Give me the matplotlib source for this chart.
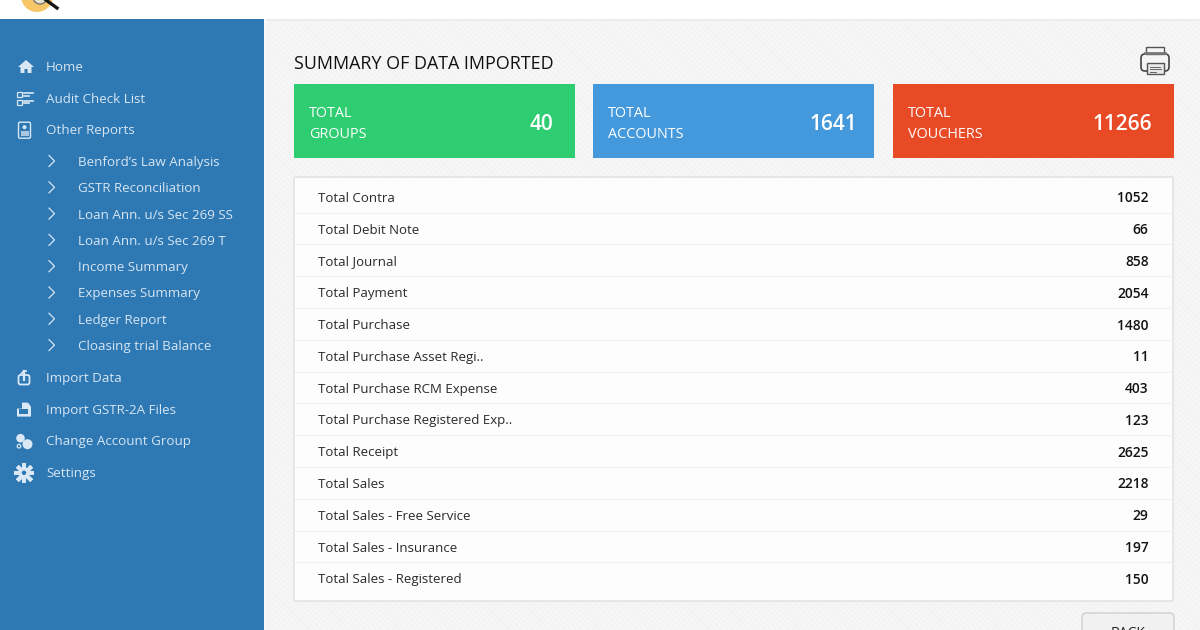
import matplotlib
matplotlib.use("Agg")
import matplotlib.pyplot as plt
from matplotlib.patches import Rectangle, FancyBboxPatch, Circle, Polygon
from matplotlib.lines import Line2D

plt.rcParams['font.family'] = ['Open Sans', 'Noto Sans', 'DejaVu Sans']
plt.rcParams['hatch.linewidth'] = 0.7

title = "SUMMARY OF DATA IMPORTED"
card_titles = [("TOTAL", "GROUPS"), ("TOTAL", "ACCOUNTS"), ("TOTAL", "VOUCHERS")]
card_values = [40, 1641, 11266]
card_colors = ["#2ecd71", "#4499dc", "#e84a25"]
row_labels = ["Total Contra", "Total Debit Note", "Total Journal", "Total Payment", "Total Purchase",
              "Total Purchase Asset Regi..", "Total Purchase RCM Expense", "Total Purchase Registered Exp..",
              "Total Receipt", "Total Sales", "Total Sales - Free Service", "Total Sales - Insurance",
              "Total Sales - Registered"]
row_values = [1052, 66, 858, 2054, 1480, 11, 403, 123, 2625, 2218, 29, 197, 150]
menu_top = ["Home", "Audit Check List", "Other Reports"]
menu_sub = ["Benford\u2019s Law Analysis", "GSTR Reconciliation", "Loan Ann. u/s Sec 269 SS", "Loan Ann. u/s Sec 269 T",
            "Income Summary", "Expenses Summary", "Ledger Report", "Cloasing trial Balance"]
menu_bottom = ["Import Data", "Import GSTR-2A Files", "Change Account Group", "Settings"]

fig = plt.figure(figsize=(12, 6.3), dpi=100)
ax = fig.add_axes([0, 0, 1, 1])
ax.set_xlim(0, 1200)
ax.set_ylim(630, 0)
ax.axis("off")

# page background
ax.add_patch(Rectangle((264, 20), 936, 610, fc="#f3f3f3", ec="#fafafa", hatch="\\\\\\\\\\\\", lw=0, zorder=0))
# header
ax.add_patch(Rectangle((0, 0), 1200, 19, fc="white", ec="none", zorder=1))
ax.add_patch(Rectangle((264, 19), 936, 2, fc="#ececec", ec="none", zorder=1))
ax.add_patch(Circle((37, -4), 16, fc="#f6c667", ec="none", zorder=2, clip_on=True))
ax.add_line(Line2D([46, 57], [0, 8], color="#151515", lw=2.4, zorder=3))
ax.add_patch(Circle((40, -3), 7, fc="#e9e2cf", ec="#777777", lw=1, zorder=2))
# sidebar
ax.add_patch(Rectangle((0, 19), 264, 611, fc="#2e78b3", ec="none", zorder=1))
ax.add_patch(Rectangle((263.5, 19), 2, 611, fc="#f6f8fa", ec="none", zorder=1))

ICON = "#d9e8f4"
MENU = "#d6e6f3"
def menu_text(x, y, s):
    ax.text(x, y + 5, s, color=MENU, fontsize=9.6, va="baseline", ha="left", zorder=4)

def icon(kind, cx, cy):
    if kind == 0:  # home
        ax.add_patch(Polygon([(cx-8, cy), (cx, cy-7), (cx+8, cy), (cx+5.5, cy), (cx+5.5, cy+6), (cx+1.5, cy+6),
                              (cx+1.5, cy+2), (cx-1.5, cy+2), (cx-1.5, cy+6), (cx-5.5, cy+6), (cx-5.5, cy)],
                             fc=ICON, ec="none", zorder=4))
    elif kind == 1:  # check list
        for dy in (-4, 3.5):
            ax.add_patch(Rectangle((cx-8, cy+dy-2.5), 5, 5, fc="none", ec=ICON, lw=0.9, zorder=4))
            ax.add_line(Line2D([cx-1, cx+8], [cy+dy-1.2]*2, color=ICON, lw=1.2, zorder=4))
            ax.add_line(Line2D([cx-1, cx+4], [cy+dy+1.2]*2, color=ICON, lw=1.2, zorder=4))
    elif kind == 2:  # report
        ax.add_patch(FancyBboxPatch((cx-6.5, cy-8), 12, 16, boxstyle="round,pad=0,rounding_size=1.5",
                                    fc="none", ec=ICON, lw=1, zorder=4))
        ax.add_patch(Circle((cx-0.5, cy-3), 2, fc=ICON, ec="none", zorder=4))
        ax.add_patch(Rectangle((cx-4.5, cy+1), 8, 5, fc="#a9c8e0", ec="none", zorder=4))
    elif kind == 3:  # import
        ax.add_patch(FancyBboxPatch((cx-5.5, cy-3), 11, 9.5, boxstyle="round,pad=0,rounding_size=2",
                                    fc="none", ec=ICON, lw=1.3, zorder=4))
        ax.add_line(Line2D([cx, cx], [cy-7, cy+2], color=ICON, lw=1.6, zorder=4))
        ax.add_line(Line2D([cx-2.5, cx, cx+2], [cy-4.5, cy-7, cy-7], color=ICON, lw=1.3, zorder=4))
    elif kind == 4:  # import files
        ax.add_patch(Polygon([(cx-7, cy-1), (cx-2, cy-1), (cx-2, cy-7), (cx+4, cy-7), (cx+7, cy-3), (cx+7, cy+7), (cx-7, cy+7)],
                             fc=ICON, ec="none", zorder=4))
        ax.add_patch(Rectangle((cx-5, cy-0.5), 9, 4.5, fc="#2e78b3", ec="none", zorder=4))
    elif kind == 5:  # change group
        ax.add_patch(Circle((cx-3.5, cy-3), 4.3, fc=ICON, ec="none", zorder=4))
        ax.add_patch(Circle((cx+3.5, cy+3), 5, fc=ICON, ec="none", zorder=4))
        ax.add_patch(Circle((cx-5, cy+5), 1.8, fc="none", ec=ICON, lw=0.9, zorder=4))
    elif kind == 6:  # settings
        ax.plot([cx], [cy], marker=(4, 2, 0), ms=14.5, mew=2.8, mec=ICON, zorder=4)
        ax.plot([cx], [cy], marker=(4, 2, 45), ms=14.5, mew=2.8, mec=ICON, zorder=4)
        ax.add_patch(Circle((cx, cy), 5.6, fc=ICON, ec="none", zorder=4))
        ax.add_patch(Circle((cx, cy), 2.2, fc="#2e78b3", ec="none", zorder=5))

for i, s in enumerate(menu_top):
    y = 66 + i * 31.6
    menu_text(46, y, s)
    icon(i, 25 if i else 26, y + 1)
for i, s in enumerate(menu_sub):
    y = 161 + i * 26.3
    ax.plot([49, 54.5, 49], [y - 5.5, y, y + 5.5], color=MENU, lw=0.9, zorder=4)
    menu_text(78, y, s)
for i, s in enumerate(menu_bottom):
    y = 377 + i * 31.6
    menu_text(46, y, s)
    icon(i + 3, 24, y + 1)

# title and printer
ax.text(293.5, 69, title, color="#111111", fontsize=12.9, va="baseline", ha="left", zorder=4)
ax.add_patch(FancyBboxPatch((1141, 54), 28, 17, boxstyle="round,pad=0,rounding_size=4", fc="none", ec="#444444", lw=1.2, zorder=4))
ax.add_patch(Rectangle((1146, 47), 18, 7, fc="none", ec="#555555", lw=1, zorder=4))
ax.add_line(Line2D([1145, 1165], [53, 53], color="#777777", lw=2, zorder=4))
ax.add_patch(Rectangle((1147, 63), 17, 11, fc="#e8e8e8", ec="#555555", lw=1, zorder=5))
for yy, xe in ((66.5, 1160), (69, 1161), (71.5, 1156)):
    ax.add_line(Line2D([1150, xe], [yy, yy], color="#666666", lw=0.7, zorder=6))

# cards
value_right = [553, 857.5, 1152]
for i, ((a, b), v, c) in enumerate(zip(card_titles, card_values, card_colors)):
    x0 = 294 + i * 299.3
    ax.add_patch(Rectangle((x0, 84), 281, 74, fc=c, ec="none", zorder=2))
    ax.text(x0 + 15, 117, a, color="white", fontsize=10.4, va="baseline", ha="left", zorder=4)
    ax.text(x0 + 15, 138, b, color="white", fontsize=10.4, va="baseline", ha="left", zorder=4)
    ax.text(value_right[i], 129.5, str(v), color="white", fontsize=15, fontweight="semibold", va="baseline", ha="right", zorder=4)

# table
ax.add_patch(FancyBboxPatch((294, 177), 879, 424, boxstyle="round,pad=0,rounding_size=2", fc="#fdfdfd", ec="#dcdcdc", lw=0.9, zorder=2))
for i, (s, v) in enumerate(zip(row_labels, row_values)):
    y = 196.8 + i * 31.8
    ax.text(318, y + 5, s, color="#2a2a2a", fontsize=9.55, va="baseline", ha="left", zorder=4)
    ax.text(1148.5, y + 5.5, str(v), color="#111111", fontsize=9.9, fontweight="semibold", va="baseline", ha="right", zorder=4)
    if i:
        ax.add_line(Line2D([295, 1172], [y - 16, y - 16], color="#f0f0f0", lw=0.8, zorder=3))

# back button
ax.add_patch(FancyBboxPatch((1082, 613), 92, 30, boxstyle="round,pad=0,rounding_size=4", fc="#f1f1f1", ec="#cfcfcf", lw=1, zorder=2))
ax.text(1128, 637, "BACK", color="#222222", fontsize=9.9, va="baseline", ha="center", zorder=4)

fig.savefig("out.png", dpi=100)
